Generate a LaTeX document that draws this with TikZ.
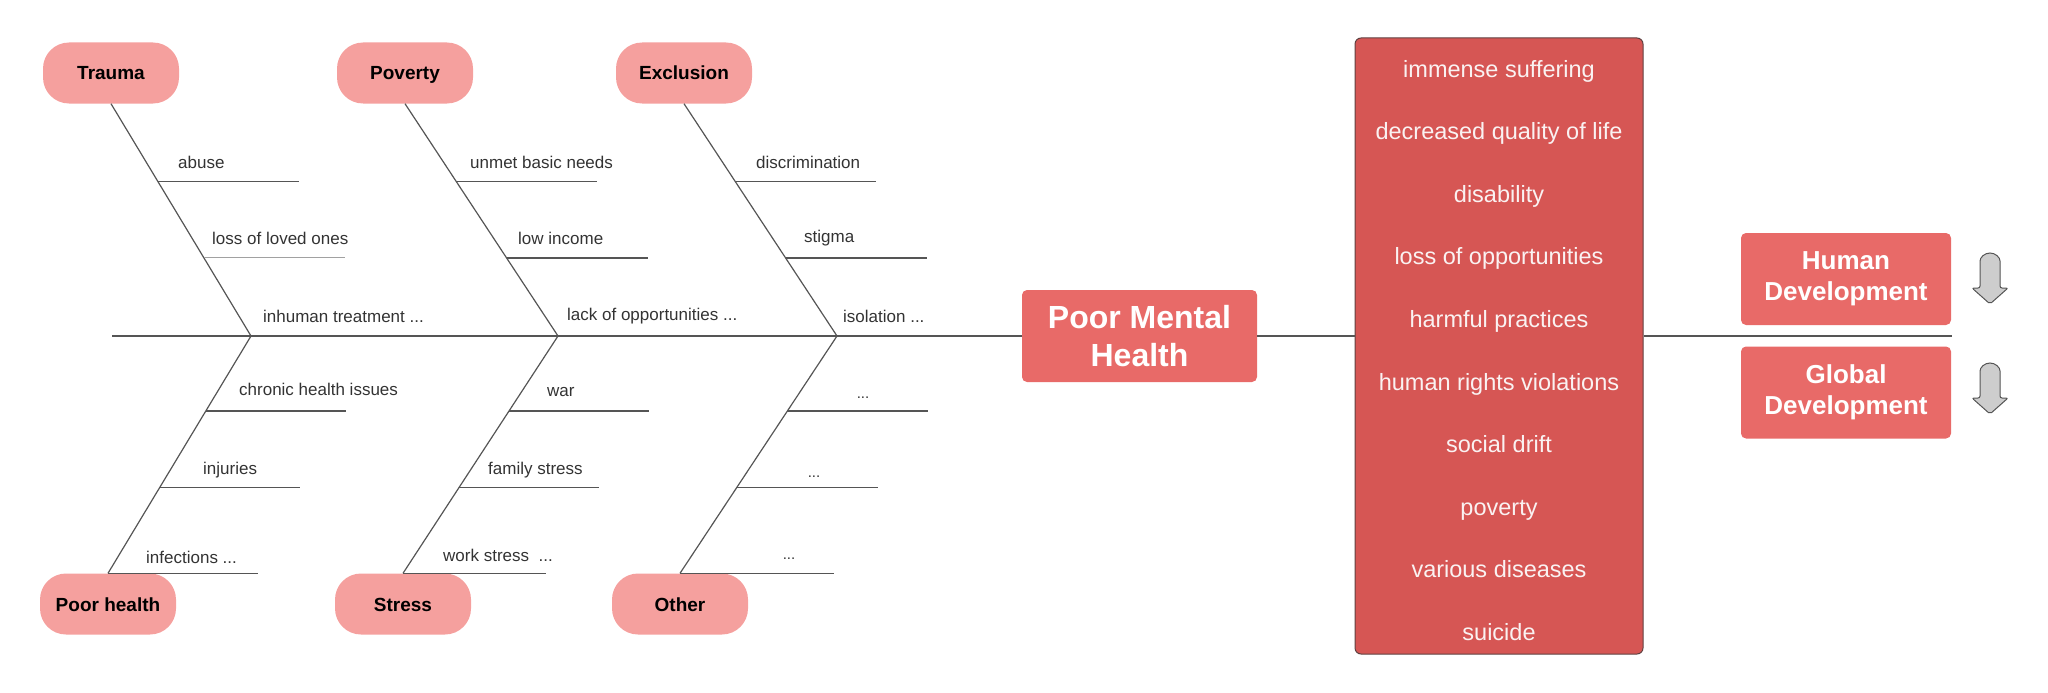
\documentclass[tikz,border=0pt]{standalone}
\usepackage{fontspec}
\setmainfont{Liberation Sans}
\usetikzlibrary{calc}
\definecolor{pill}{RGB}{245,160,158}
\definecolor{pmhred}{RGB}{232,106,104}
\definecolor{effred}{RGB}{214,86,84}
\definecolor{bonecol}{RGB}{85,85,85}
\definecolor{lbl}{RGB}{51,51,51}
\definecolor{arrowgray}{RGB}{205,205,205}
\definecolor{effborder}{RGB}{95,65,65}
\definecolor{efftext}{RGB}{250,242,242}
\tikzset{
  cause/.style={fill=pill, rounded corners=26pt, minimum width=136pt, minimum height=61pt, inner sep=0pt, text height=14pt, text depth=0pt, font=\fontsize{19}{22}\selectfont\bfseries},
  bone/.style={draw=bonecol, line width=1.2pt},
  lightbone/.style={draw=bonecol!55, line width=1.1pt},
  sublabel/.style={anchor=west, inner sep=0pt, text=lbl, font=\fontsize{17}{20}\selectfont},
  dotlabel/.style={inner sep=0pt, text=lbl, font=\fontsize{15}{18}\selectfont},
  headbox/.style={fill=pmhred, rounded corners=5pt, text=white, font=\fontsize{32}{38}\selectfont\bfseries, align=center, minimum width=235pt, minimum height=92pt, inner sep=0pt},
  effbox/.style={fill=effred, draw=effborder, line width=1pt, rounded corners=6pt, text=efftext, font=\fontsize{23.5}{62.6}\selectfont, align=center, minimum width=288pt, minimum height=616pt, inner sep=0pt},
  devbox/.style={fill=pmhred, rounded corners=5pt, text=white, font=\fontsize{26}{31}\selectfont\bfseries, align=center, minimum width=210pt, minimum height=92pt, inner sep=0pt},
  downarrow/.style={fill=arrowgray, draw=bonecol, line width=1pt, rounded corners=2pt}
}
\begin{document}
\begin{tikzpicture}[x=1pt,y=-1pt]
\useasboundingbox (0,0) rectangle (2048,693);

% cause nodes
\node[cause] (trauma) at (111,73) {Trauma};
\node[cause] (poverty) at (405,73) {Poverty};
\node[cause] (exclusion) at (684,73) {Exclusion};
\node[cause] (poorhealth) at (108,604) {Poor health};
\node[cause] (stress) at (403,604) {Stress};
\node[cause] (other) at (680,604) {Other};

% head and effects
\node[headbox] (pmh) at (1139.5,336) {Poor Mental\\Health};
\node[effbox] (effects) at (1499,346) {\rule{0pt}{26pt}immense suffering\\decreased quality of life\\disability\\loss of opportunities\\harmful practices\\human rights violations\\social drift\\poverty\\various diseases\\suicide};
\node[devbox] (humandev) at (1846,279) {Human\\Development};
\node[devbox] (globaldev) at (1846,392.5) {Global\\Development};

% spine
\coordinate (j0) at (112,336);
\coordinate (j1) at (251,336);
\coordinate (j2) at (558,336);
\coordinate (j3) at (837,336);
\coordinate (rend) at (1952,336);
\draw[bone] (j0) -- (pmh.west);
\draw[bone] (pmh.east) -- (pmh.east -| effects.west);
\draw[bone] (pmh.east -| effects.east) -- (rend);

% bones
\draw[bone] (trauma.south) -- (j1) -- (poorhealth.north);
\draw[bone] (poverty.south) -- (j2) -- (stress.north);
\draw[bone] (exclusion.south) -- (j3) -- (other.north);

% trauma branches
\coordinate (ta) at ($(trauma.south)!0.336!(j1)$);
\coordinate (tb) at ($(trauma.south)!0.664!(j1)$);
\draw[bone] (ta) -- ++(141,0) coordinate (tae);
\draw[lightbone] (tb) -- ++(141,0) coordinate (tbe);
% poverty branches
\coordinate (pa) at ($(poverty.south)!0.336!(j2)$);
\coordinate (pb) at ($(poverty.south)!0.664!(j2)$);
\draw[bone] (pa) -- ++(141,0) coordinate (pae);
\draw[bone] (pb) -- ++(141,0) coordinate (pbe);
% exclusion branches
\coordinate (ea) at ($(exclusion.south)!0.336!(j3)$);
\coordinate (eb) at ($(exclusion.south)!0.664!(j3)$);
\draw[bone] (ea) -- ++(141,0) coordinate (eae);
\draw[bone] (eb) -- ++(141,0) coordinate (ebe);
% poor health branches
\coordinate (ha) at ($(poorhealth.north)!0.684!(j1)$);
\coordinate (hb) at ($(poorhealth.north)!0.36!(j1)$);
\draw[bone] (ha) -- ++(140,0) coordinate (hae);
\draw[bone] (hb) -- ++(141,0) coordinate (hbe);
\draw[bone] (poorhealth.north) -- ++(150,0) coordinate (hce);
% stress branches
\coordinate (sa) at ($(stress.north)!0.684!(j2)$);
\coordinate (sb) at ($(stress.north)!0.36!(j2)$);
\draw[bone] (sa) -- ++(140,0) coordinate (sae);
\draw[bone] (sb) -- ++(140,0) coordinate (sbe);
\draw[bone] (stress.north) -- ++(143,0) coordinate (sce);
% other branches
\coordinate (oa) at ($(other.north)!0.684!(j3)$);
\coordinate (ob) at ($(other.north)!0.36!(j3)$);
\draw[bone] (oa) -- ++(141,0) coordinate (oae);
\draw[bone] (ob) -- ++(141,0) coordinate (obe);
\draw[bone] (other.north) -- ++(154,0) coordinate (oce);

% labels
\node[sublabel] (labuse) at (178,162) {abuse};
\node[sublabel] (lloss) at (212,238) {loss of loved ones};
\node[sublabel] (linhuman) at (263,316) {inhuman treatment ...};
\node[sublabel] (lunmet) at (470,162) {unmet basic needs};
\node[sublabel] (llow) at (518,238) {low income};
\node[sublabel] (llack) at (567,316) {lack of opportunities ...};
\node[sublabel] (ldiscr) at (756,162) {discrimination};
\node[sublabel] (lstigma) at (804,238) {stigma};
\node[sublabel] (liso) at (843,316) {isolation ...};
\node[sublabel] (lchronic) at (239,389) {chronic health issues};
\node[sublabel] (linj) at (203,470) {injuries};
\node[sublabel] (linf) at (146,557) {infections ...};
\node[sublabel] (lwar) at (547,392) {war};
\node[sublabel] (lfam) at (488,470) {family stress};
\node[sublabel] (lwork) at (443,555) {work stress\ \ ...};
\node[dotlabel] (ldota) at (863,398) {...};
\node[dotlabel] (ldotb) at (814,477) {...};
\node[dotlabel] (ldotc) at (789,559) {...};

% down arrows
\draw[downarrow] (1980,288) -- (1980,263) arc[start angle=180,end angle=0,radius=10pt] -- (2000,288) -- (2008,288) -- (1990,304) -- (1972,288) -- cycle;
\draw[downarrow] (1980,398) -- (1980,373) arc[start angle=180,end angle=0,radius=10pt] -- (2000,398) -- (2008,398) -- (1990,414) -- (1972,398) -- cycle;
\end{tikzpicture}
\end{document}
